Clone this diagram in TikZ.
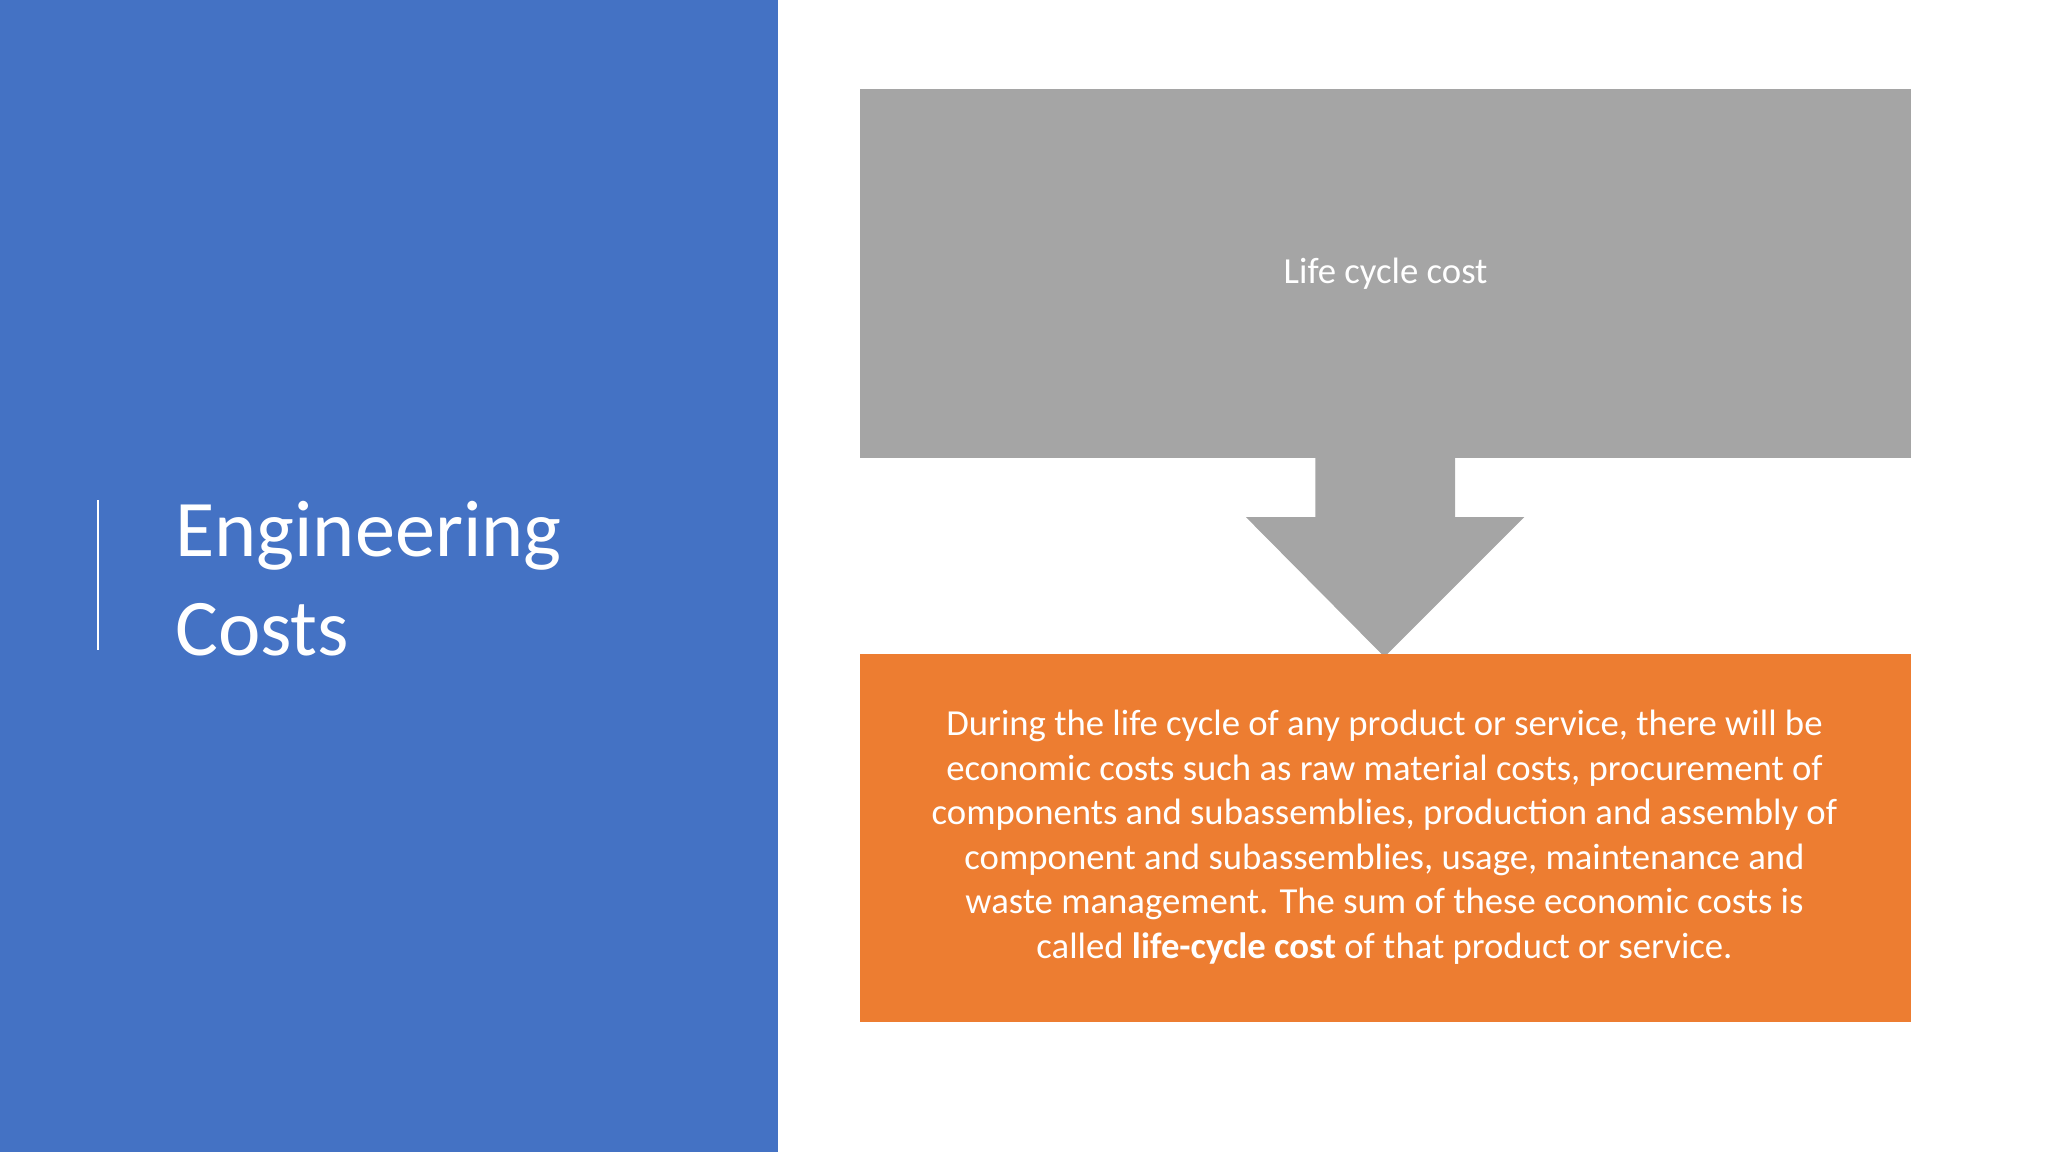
\documentclass[tikz,border=0pt]{standalone}
\usepackage{fontspec}
\setmainfont{Carlito}
\definecolor{pblue}{HTML}{4472C4}
\definecolor{pgray}{HTML}{A5A5A5}
\definecolor{porange}{HTML}{ED7D31}
\begin{document}
\begin{tikzpicture}[x=0.02cm,y=-0.02cm]
\useasboundingbox (0,0) rectangle (1568,882);
\fill[pblue] (0,0) rectangle (596,882);
\draw[white,line width=1.2pt] (75,383) coordinate (la) -- (75,498) coordinate (lb);
\node[anchor=west,text=white,font=\fontsize{35}{43}\selectfont,align=left] (title) at (128,443) {Engineering\\Costs};
\node[fill=pgray,minimum width=805*0.02cm,minimum height=282*0.02cm,inner sep=0,anchor=north west,text=white,font=\fontsize{16}{19}\selectfont] (top) at (658,68) {Life cycle cost};
\fill[pgray] (1007,349) -- (1114,349) -- (1114,396) -- (1167,396) -- (1060,503) -- (954,396) -- (1007,396) -- cycle;
\node[fill=porange,minimum width=805*0.02cm,minimum height=282*0.02cm,inner sep=0,anchor=north west] (bot) at (658,500) {};
\node[text=white,align=center,font=\fontsize{16}{19.4}\selectfont] (txt) at (1060,641) {During the life cycle of any product or service, there will be\\economic costs such as raw material costs, procurement of\\components and subassemblies, production and assembly of\\component and subassemblies, usage, maintenance and\\waste management. The sum of these economic costs is\\called \textbf{life-cycle cost} of that product or service.};
\end{tikzpicture}
\end{document}
